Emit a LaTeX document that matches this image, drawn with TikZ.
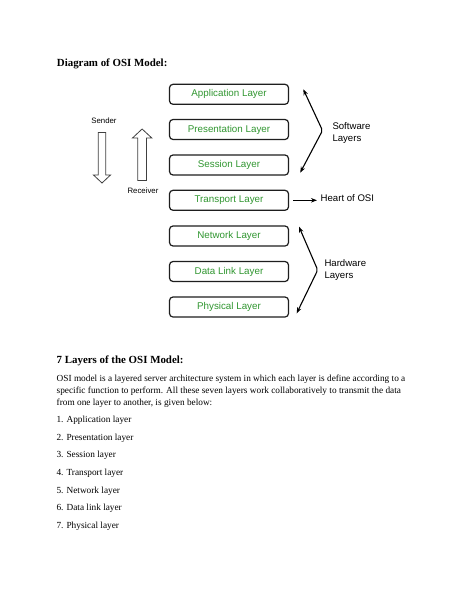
\documentclass[tikz,border=0pt]{standalone}
\usepackage{fontspec}
\setmainfont{Liberation Serif}
\newfontfamily\diagfont{Liberation Sans}
\usetikzlibrary{arrows.meta}
\definecolor{layergreen}{RGB}{48,150,48}
\definecolor{boxedge}{RGB}{30,30,30}
\begin{document}
\begin{tikzpicture}[x=1pt,y=-1pt,
  layerbox/.style={draw=boxedge, line width=1.2pt, rounded corners=3.5pt, minimum width=119pt, minimum height=20pt, inner sep=0pt, font=\diagfont\fontsize{9.8}{11}\selectfont, text=layergreen},
  lbl/.style={font=\diagfont\fontsize{9.6}{12.2}\selectfont, inner sep=0pt, align=left},
  smalllbl/.style={font=\diagfont\fontsize{7.8}{9}\selectfont, inner sep=0pt},
  hollow/.style={draw=black!75, line width=0.8pt, fill=white},
  conn/.style={line width=1.1pt, -{Stealth[length=6pt,width=4.5pt]}},
  biconn/.style={line width=1.1pt, {Stealth[length=6pt,width=4.5pt]}-{Stealth[length=6pt,width=4.5pt]}, rounded corners=2pt},
  bodytext/.style={anchor=base west, inner sep=0pt, font=\fontsize{9.3}{11.7}\selectfont},
  heading/.style={anchor=base west, inner sep=0pt, font=\bfseries\fontsize{10.9}{13}\selectfont}]
\useasboundingbox[fill=white] (0,0) rectangle (474,613);

\node[heading] (title) at (56.7,66) {Diagram of OSI Model:};

\node[layerbox] (app) at (229,94.3) {Application Layer};
\node[layerbox] (pres) at (229,129.5) {Presentation Layer};
\node[layerbox] (sess) at (229,165) {Session Layer};
\node[layerbox] (trans) at (229,200.3) {Transport Layer};
\node[layerbox] (net) at (229,236) {Network Layer};
\node[layerbox] (dlink) at (229,271.5) {Data Link Layer};
\node[layerbox] (phys) at (229,307) {Physical Layer};

\node[smalllbl] (sender) at (104,120.5) {Sender};
\node[smalllbl] (receiver) at (143,190.3) {Receiver};
\draw[hollow] (98.3,132.5) -- (105.7,132.5) -- (105.7,175) -- (110.5,175) -- (102,183) -- (93.5,175) -- (98.3,175) -- cycle;
\draw[hollow] (137.7,180.5) -- (146.5,180.5) -- (146.5,138) -- (151.8,138) -- (142.1,129) -- (132.5,138) -- (137.7,138) -- cycle;

\coordinate (swtop) at (303.3,89.3);
\coordinate (swmid) at (322.5,130.5);
\coordinate (swbot) at (300.2,172.7);
\draw[biconn] (swtop) -- (swmid) -- (swbot);
\node[lbl, anchor=west] (swlbl) at (332.3,133) {Software\\Layers};

\node[lbl, anchor=west] (heart) at (320.5,198.5) {Heart of OSI};
\draw[conn] ([xshift=4pt]trans.east) -- ([xshift=-3.5pt]heart.west |- trans.east);

\coordinate (hwtop) at (299,226.7);
\coordinate (hwmid) at (317.7,270);
\coordinate (hwbot) at (296.7,313.3);
\draw[biconn] (hwtop) -- (hwmid) -- (hwbot);
\node[lbl, anchor=west] (hwlbl) at (324.3,270.3) {Hardware\\Layers};

\node[heading] (heading2) at (56.5,363.3) {7 Layers of the OSI Model:};
\node[bodytext] (p1) at (56.5,381.7) {OSI model is a layered server architecture system in which each layer is define according to a};
\node[bodytext] (p2) at (56.5,393.4) {specific function to perform. All these seven layers work collaboratively to transmit the data};
\node[bodytext] (p3) at (56.5,405.1) {from one layer to another, is given below:};

\node[bodytext] (l1) at (56.3,422.3) {1. Application layer};
\node[bodytext] (l2) at (56.3,440.0) {2. Presentation layer};
\node[bodytext] (l3) at (56.3,457.6) {3. Session layer};
\node[bodytext] (l4) at (56.3,475.3) {4. Transport layer};
\node[bodytext] (l5) at (56.3,493.0) {5. Network layer};
\node[bodytext] (l6) at (56.3,510.6) {6. Data link layer};
\node[bodytext] (l7) at (56.3,528.3) {7. Physical layer};
\end{tikzpicture}
\end{document}
